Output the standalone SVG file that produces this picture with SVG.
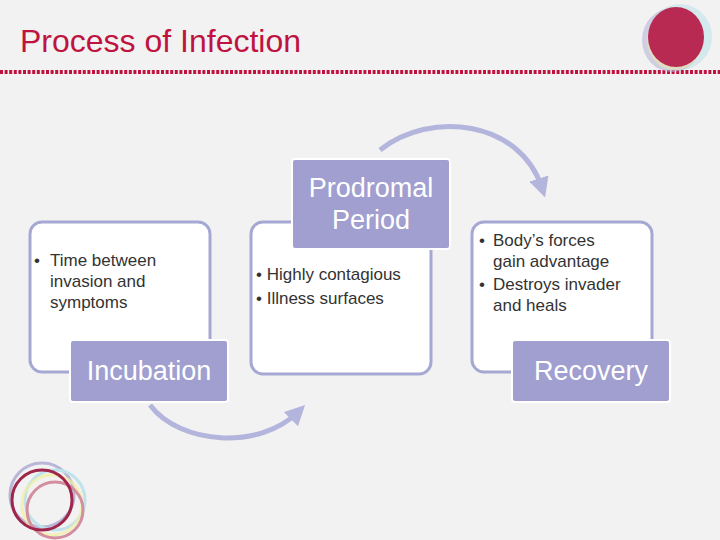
<svg xmlns="http://www.w3.org/2000/svg" width="720" height="540" viewBox="0 0 720 540">
<defs>
<style>
.card{fill:#fff;stroke:#a6a8d4;stroke-width:3}
.lbl{fill:#a09fd0;stroke:#fff;stroke-width:2}
.t{font-family:"Liberation Sans",Arial,sans-serif;font-size:17px;fill:#333}
.h{font-family:"Liberation Sans",Arial,sans-serif;font-size:27px;fill:#fff;text-anchor:middle}
.arc{fill:none;stroke:#b3b5dc;stroke-width:5}
</style>
<marker id="ah" markerWidth="4" markerHeight="4" refX="2" refY="2" orient="auto"><path d="M0,0L4,2L0,4Z" fill="#b3b5dc"/></marker>
</defs>
<rect width="720" height="540" fill="#f2f2f2"/>
<text x="20" y="52" font-family="Liberation Sans,Arial,sans-serif" font-size="32" fill="#c0123f">Process of Infection</text>
<line x1="0" y1="72" x2="720" y2="72" stroke="#c0123f" stroke-width="4" stroke-dasharray="3,1.6"/>
<g id="logo-top">
<ellipse cx="680" cy="37" rx="32" ry="33" fill="#bfe3ea" opacity="0.6"/>
<ellipse cx="672" cy="40" rx="30" ry="32" fill="#b9b6d8" opacity="0.6"/>
<ellipse cx="675" cy="40" rx="28" ry="30" fill="#f3ef9e" opacity="0.5"/>
<ellipse cx="676" cy="37" rx="28" ry="30" fill="#b82a52"/>
</g>
<g id="logo-bottom" fill="none" stroke-width="3">
<circle cx="42" cy="495" r="32" stroke="#b9b6d8"/>
<circle cx="55" cy="500" r="30" stroke="#bfe3ea"/>
<circle cx="52" cy="505" r="30" stroke="#f3ef9e" opacity="0.7"/>
<circle cx="55" cy="510" r="28" stroke="#d38e9f"/>
<circle cx="42" cy="500" r="30" stroke="#a0254a"/>
</g>
<g id="connectors">
<path class="arc" d="M150,405 C180,445 260,450 298,412" marker-end="url(#ah)"/>
<path class="arc" d="M380,150 C430,110 520,120 542,188" marker-end="url(#ah)"/>
</g>
<g id="incubation">
<rect class="card" x="30" y="222" width="180" height="150" rx="12"/>
<text class="t" x="34" y="266">•</text>
<text class="t" x="50" y="266">Time between</text>
<text class="t" x="50" y="287">invasion and</text>
<text class="t" x="50" y="308">symptoms</text>
<rect class="lbl" x="70" y="340" width="158" height="62" rx="3"/>
<text class="h" x="149" y="380">Incubation</text>
</g>
<g id="prodromal">
<rect class="card" x="251" y="222" width="180" height="152" rx="12"/>
<text class="t" x="256" y="280">• Highly contagious</text>
<text class="t" x="256" y="304">• Illness surfaces</text>
<rect class="lbl" x="292" y="159" width="158" height="90" rx="3"/>
<text class="h" x="371" y="197">Prodromal</text>
<text class="h" x="371" y="229">Period</text>
</g>
<g id="recovery">
<rect class="card" x="472" y="222" width="180" height="150" rx="12"/>
<text class="t" x="479" y="246">•</text>
<text class="t" x="493" y="246">Body’s forces</text>
<text class="t" x="493" y="267">gain advantage</text>
<text class="t" x="479" y="290">•</text>
<text class="t" x="493" y="290">Destroys invader</text>
<text class="t" x="493" y="311">and heals</text>
<rect class="lbl" x="512" y="340" width="158" height="62" rx="3"/>
<text class="h" x="591" y="380">Recovery</text>
</g>
</svg>
